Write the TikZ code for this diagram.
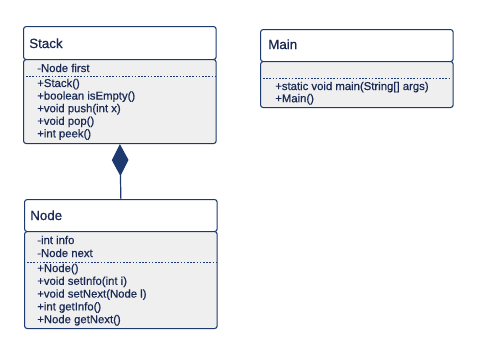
\documentclass[tikz,border=0pt]{standalone}
\usepackage{fontspec}
\setmainfont{Liberation Sans}
\newfontfamily\umlfont[FakeBold=0.6]{Liberation Sans}
\usetikzlibrary{arrows.meta}
\definecolor{umlline}{HTML}{1C3A70}
\definecolor{umltext}{HTML}{1A2A55}
\definecolor{umlfill}{HTML}{EFEFEF}
\begin{document}
\begin{tikzpicture}[x=0.75pt,y=-0.75pt,
    titlebox/.style={draw=umlline, fill=white, line width=0.8pt, rounded corners=2pt,
      anchor=north west, inner sep=0pt, minimum width=144.5pt},
    bodybox/.style={draw=umlline, fill=umlfill, line width=0.8pt, rounded corners=2pt,
      anchor=north west, inner sep=0pt, minimum width=144.5pt},
    classname/.style={anchor=base west, inner sep=0pt, text=umltext,
      font=\umlfont\fontsize{10}{12}\selectfont},
    member/.style={anchor=base west, inner sep=0pt, text=umltext,
      font=\umlfont\fontsize{8.5}{10}\selectfont},
    sep/.style={draw=umlline, dash pattern=on 1.2pt off 1.2pt, line width=0.6pt},
    comp/.style={draw=umlline, line width=0.9pt,
      {Diamond[length=24pt, width=12.5pt, fill=umlline]}-}]
  \useasboundingbox (0,0) rectangle (485,344);
  % Stack class
  \node[titlebox, minimum height=24.75pt] (stacktitle) at (23,26) {};
  \node[bodybox, minimum height=63pt] (stackbody) at (23,59) {};
  \node[classname] (stackname) at (29,48) {Stack};
  \node[member] (stackattr) at (37,72) {-Node first};
  \draw[sep] (26,76) -- (215,76);
  \foreach \t [count=\i from 0] in {+Stack(), +boolean isEmpty(), +void push(int x), +void pop(), +int peek()}
    \node[member] (stackop\i) at (37,{87+12.6*\i}) {\t};
  % Main class
  \node[titlebox, minimum height=24pt] (maintitle) at (260,29) {};
  \node[bodybox, minimum height=34.5pt] (mainbody) at (260,61) {};
  \node[classname] (mainname) at (268,49) {Main};
  \draw[sep] (263,78) -- (451,78);
  \foreach \t [count=\i from 0] in {{+static void main(String[] args)}, +Main()}
    \node[member] (mainop\i) at (275,{90+12.2*\i}) {\t};
  % Node class
  \node[titlebox, minimum height=24pt] (nodetitle) at (24,199) {};
  \node[bodybox, minimum height=72.75pt] (nodebody) at (24,231) {};
  \node[classname] (nodename) at (30,220) {Node};
  \node[member] (nodeattr0) at (37,244) {-int info};
  \node[member] (nodeattr1) at (37,257) {-Node next};
  \draw[sep] (27,262) -- (216,262);
  \foreach \t [count=\i from 0] in {+Node(), +void setInfo(int i), +void setNext(Node l), +int getInfo(), +Node getNext()}
    \node[member] (nodeop\i) at (37,{272+12.8*\i}) {\t};
  % composition
  \draw[comp] (stackbody.south) -- (nodetitle.north);
\end{tikzpicture}
\end{document}
